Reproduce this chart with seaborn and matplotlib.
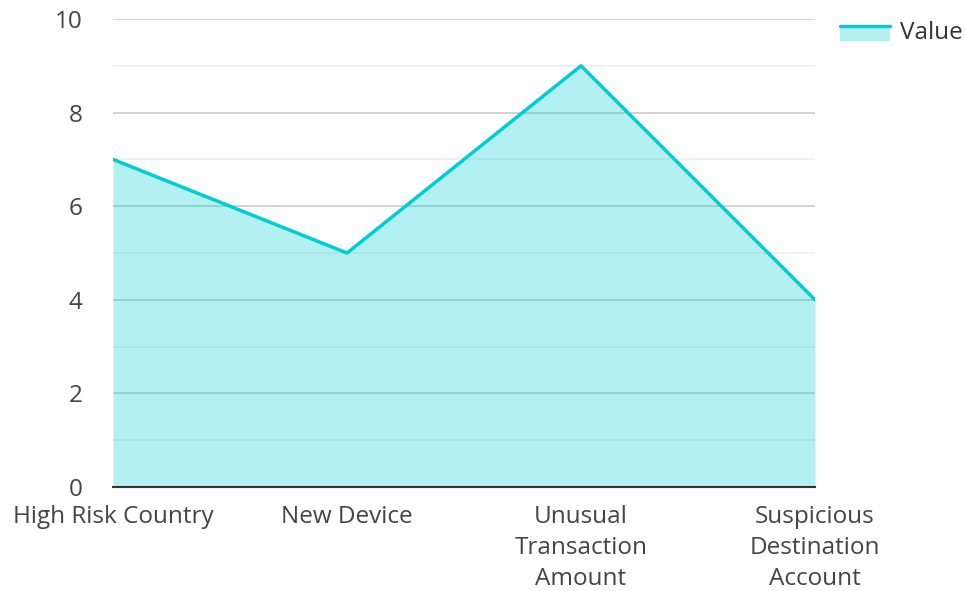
import matplotlib
matplotlib.use("Agg")
import matplotlib.pyplot as plt
import seaborn as sns
import pandas as pd
import numpy as np
from matplotlib.legend_handler import HandlerBase
from matplotlib.patches import Rectangle
from matplotlib.lines import Line2D

categories = ["High Risk Country", "New Device", "Unusual\nTransaction\nAmount", "Suspicious\nDestination\nAccount"]
values = [7, 5, 9, 4]
series_name = "Value"

LINE = "#00CED1"
FILL_ALPHA = 0.3

sns.set_theme(style="white")
plt.rcParams["font.family"] = ["Open Sans", "DejaVu Sans"]

df = pd.DataFrame({"cat": categories, "val": values, "x": np.arange(len(categories))})

fig = plt.figure(figsize=(9.65, 5.91), dpi=100)
ax = fig.add_axes([113/965, 1-487/591, (815-113)/965, (487-19)/591])

ax.fill_between(df["x"], 0, df["val"], color=LINE, alpha=FILL_ALPHA, linewidth=0, zorder=2)
sns.lineplot(data=df, x="x", y="val", ax=ax, color=LINE, linewidth=2.5, zorder=3, legend=False)

ax.set_xlim(0, len(categories)-1)
ax.set_ylim(0, 10)
ax.set_yticks([0, 2, 4, 6, 8, 10])
ax.set_yticks([1, 3, 5, 7, 9], minor=True)
ax.grid(True, which="major", axis="y", color="#cccccc", linewidth=1.2, zorder=1)
ax.grid(True, which="minor", axis="y", color="#eeeeee", linewidth=1.2, zorder=1)
ax.set_axisbelow(True)
ax.set_xticks(df["x"])
ax.set_xticklabels(categories, linespacing=1.4)
ax.tick_params(axis="both", which="both", length=0, labelsize=17.5, colors="#444444")
ax.tick_params(axis="x", pad=13)
ax.tick_params(axis="y", pad=22)
ax.set_xlabel("")
ax.set_ylabel("")
for s in ["top", "right", "left"]:
    ax.spines[s].set_visible(False)
ax.spines["bottom"].set_color("#333333")
ax.spines["bottom"].set_linewidth(1.5)
ax.spines["bottom"].set_zorder(4)


class AreaHandler(HandlerBase):
    def create_artists(self, legend, orig_handle, xdescent, ydescent, width, height, fontsize, trans):
        yc = height * 0.75
        r = Rectangle((-xdescent, -ydescent - height * 0.1), width, yc + height * 0.1 + ydescent, facecolor=LINE,
                      alpha=FILL_ALPHA, edgecolor="none", transform=trans)
        l = Line2D([-xdescent, -xdescent + width], [yc, yc], color=LINE, linewidth=2.5, transform=trans)
        return [r, l]


handle = Line2D([], [], color=LINE)
leg = fig.legend([handle], [series_name], handler_map={Line2D: AreaHandler()},
                 loc="center left", bbox_to_anchor=(840/965, 1-33/591), frameon=False,
                 fontsize=17.5, handlelength=2.06, handletextpad=0.4, labelcolor="#333333",
                 borderaxespad=0, borderpad=0)

fig.savefig("out.png", dpi=100)
